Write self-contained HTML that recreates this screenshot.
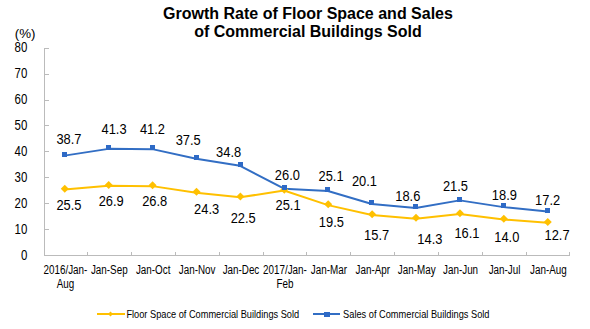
<!DOCTYPE html>
<html><head><meta charset="utf-8"><style>
html,body{margin:0;padding:0;background:#fff;width:590px;height:329px;overflow:hidden}
svg{display:block}
text{font-family:"Liberation Sans",sans-serif;fill:#000}
</style></head><body>
<svg width="590" height="329" viewBox="0 0 590 329">
<text x="308" y="19" font-size="16" font-weight="bold" text-anchor="middle">Growth Rate of Floor Space and Sales</text>
<text x="308" y="36.5" font-size="16" font-weight="bold" text-anchor="middle">of Commercial Buildings Sold</text>
<path d="M44.5 48 V255.5 H570" stroke="#BBBBBB" stroke-width="1" fill="none"/>
<path d="M44 48.5 H49 M44 74.5 H49 M44 100.5 H49 M44 125.5 H49 M44 151.5 H49 M44 177.5 H49 M44 203.5 H49 M44 229.5 H49 M44 255.5 H49 M87.5 255 V252 M131.5 255 V252 M175.5 255 V252 M219.5 255 V252 M263.5 255 V252 M306.5 255 V252 M350.5 255 V252 M394.5 255 V252 M438.5 255 V252 M482.5 255 V252 M526.5 255 V252 M569.5 255 V252" stroke="#BBBBBB" stroke-width="1" fill="none"/>
<text x="14.8" y="37.6" font-size="13.33">(%)</text>
<text x="27.3" y="51.8" font-size="14" text-anchor="end" textLength="12.77" lengthAdjust="spacingAndGlyphs">80</text>
<text x="27.3" y="77.8" font-size="14" text-anchor="end" textLength="12.77" lengthAdjust="spacingAndGlyphs">70</text>
<text x="27.3" y="103.8" font-size="14" text-anchor="end" textLength="12.77" lengthAdjust="spacingAndGlyphs">60</text>
<text x="27.3" y="129.8" font-size="14" text-anchor="end" textLength="12.77" lengthAdjust="spacingAndGlyphs">50</text>
<text x="27.3" y="155.8" font-size="14" text-anchor="end" textLength="12.77" lengthAdjust="spacingAndGlyphs">40</text>
<text x="27.3" y="181.8" font-size="14" text-anchor="end" textLength="12.77" lengthAdjust="spacingAndGlyphs">30</text>
<text x="27.3" y="207.8" font-size="14" text-anchor="end" textLength="12.77" lengthAdjust="spacingAndGlyphs">20</text>
<text x="27.3" y="233.8" font-size="14" text-anchor="end" textLength="12.77" lengthAdjust="spacingAndGlyphs">10</text>
<text x="27.3" y="259.8" font-size="14" text-anchor="end" textLength="6.38" lengthAdjust="spacingAndGlyphs">0</text>
<text x="65.4" y="273.8" font-size="12" text-anchor="middle" textLength="43.8" lengthAdjust="spacingAndGlyphs">2016/Jan-</text>
<text x="65.4" y="287.8" font-size="12" text-anchor="middle" textLength="17.5" lengthAdjust="spacingAndGlyphs">Aug</text>
<text x="109.3" y="273.8" font-size="12" text-anchor="middle" textLength="36.7" lengthAdjust="spacingAndGlyphs">Jan-Sep</text>
<text x="153.2" y="273.8" font-size="12" text-anchor="middle" textLength="34.5" lengthAdjust="spacingAndGlyphs">Jan-Oct</text>
<text x="197.1" y="273.8" font-size="12" text-anchor="middle" textLength="36.6" lengthAdjust="spacingAndGlyphs">Jan-Nov</text>
<text x="241.0" y="273.8" font-size="12" text-anchor="middle" textLength="36.6" lengthAdjust="spacingAndGlyphs">Jan-Dec</text>
<text x="284.9" y="273.8" font-size="12" text-anchor="middle" textLength="43.8" lengthAdjust="spacingAndGlyphs">2017/Jan-</text>
<text x="284.9" y="287.8" font-size="12" text-anchor="middle" textLength="17.0" lengthAdjust="spacingAndGlyphs">Feb</text>
<text x="328.9" y="273.8" font-size="12" text-anchor="middle" textLength="36.1" lengthAdjust="spacingAndGlyphs">Jan-Mar</text>
<text x="372.8" y="273.8" font-size="12" text-anchor="middle" textLength="34.5" lengthAdjust="spacingAndGlyphs">Jan-Apr</text>
<text x="416.7" y="273.8" font-size="12" text-anchor="middle" textLength="37.7" lengthAdjust="spacingAndGlyphs">Jan-May</text>
<text x="460.6" y="273.8" font-size="12" text-anchor="middle" textLength="35.0" lengthAdjust="spacingAndGlyphs">Jan-Jun</text>
<text x="504.5" y="273.8" font-size="12" text-anchor="middle" textLength="31.7" lengthAdjust="spacingAndGlyphs">Jan-Jul</text>
<text x="548.4" y="273.8" font-size="12" text-anchor="middle" textLength="36.7" lengthAdjust="spacingAndGlyphs">Jan-Aug</text>
<polyline points="64.50,189.51 108.41,185.87 152.32,186.13 196.23,192.64 240.14,197.32 284.04,190.55 327.95,205.12 371.86,215.00 415.77,218.65 459.68,213.96 503.59,219.43 547.50,222.81" fill="none" stroke="#FFC000" stroke-width="2" stroke-linejoin="round"/>
<polyline points="64.50,155.63 108.41,148.87 152.32,149.13 196.23,158.75 240.14,165.78 284.04,188.66 327.95,191.00 371.86,204.01 415.77,207.91 459.68,200.37 503.59,207.13 547.50,211.55" fill="none" stroke="#326EC4" stroke-width="2" stroke-linejoin="round"/>
<path d="M60.75 188.71 L64.75 184.71 L68.75 188.71 L64.75 192.71Z" fill="#FFC000"/>
<path d="M104.66 185.07 L108.66 181.07 L112.66 185.07 L108.66 189.07Z" fill="#FFC000"/>
<path d="M148.57 185.33 L152.57 181.33 L156.57 185.33 L152.57 189.33Z" fill="#FFC000"/>
<path d="M192.48 191.84 L196.48 187.84 L200.48 191.84 L196.48 195.84Z" fill="#FFC000"/>
<path d="M236.39 196.52 L240.39 192.52 L244.39 196.52 L240.39 200.52Z" fill="#FFC000"/>
<path d="M280.29 189.75 L284.29 185.75 L288.29 189.75 L284.29 193.75Z" fill="#FFC000"/>
<path d="M324.20 204.32 L328.20 200.32 L332.20 204.32 L328.20 208.32Z" fill="#FFC000"/>
<path d="M368.11 214.20 L372.11 210.20 L376.11 214.20 L372.11 218.20Z" fill="#FFC000"/>
<path d="M412.02 217.85 L416.02 213.85 L420.02 217.85 L416.02 221.85Z" fill="#FFC000"/>
<path d="M455.93 213.16 L459.93 209.16 L463.93 213.16 L459.93 217.16Z" fill="#FFC000"/>
<path d="M499.84 218.63 L503.84 214.63 L507.84 218.63 L503.84 222.63Z" fill="#FFC000"/>
<path d="M543.75 222.01 L547.75 218.01 L551.75 222.01 L547.75 226.01Z" fill="#FFC000"/>
<rect x="62" y="152" width="5" height="5" fill="#2E6AC6"/>
<rect x="106" y="145" width="5" height="5" fill="#2E6AC6"/>
<rect x="150" y="145" width="5" height="5" fill="#2E6AC6"/>
<rect x="194" y="155" width="5" height="5" fill="#2E6AC6"/>
<rect x="238" y="162" width="5" height="5" fill="#2E6AC6"/>
<rect x="282" y="185" width="5" height="5" fill="#2E6AC6"/>
<rect x="325" y="187" width="5" height="5" fill="#2E6AC6"/>
<rect x="369" y="200" width="5" height="5" fill="#2E6AC6"/>
<rect x="413" y="204" width="5" height="5" fill="#2E6AC6"/>
<rect x="457" y="197" width="5" height="5" fill="#2E6AC6"/>
<rect x="501" y="203" width="5" height="5" fill="#2E6AC6"/>
<rect x="545" y="208" width="5" height="5" fill="#2E6AC6"/>
<text x="69.00" y="143.6" font-size="14" text-anchor="middle" textLength="25.07" lengthAdjust="spacingAndGlyphs">38.7</text>
<text x="114.05" y="134.3" font-size="14" text-anchor="middle" textLength="25.07" lengthAdjust="spacingAndGlyphs">41.3</text>
<text x="152.50" y="134.3" font-size="14" text-anchor="middle" textLength="25.07" lengthAdjust="spacingAndGlyphs">41.2</text>
<text x="188.25" y="144.8" font-size="14" text-anchor="middle" textLength="25.07" lengthAdjust="spacingAndGlyphs">37.5</text>
<text x="228.65" y="157.4" font-size="14" text-anchor="middle" textLength="25.07" lengthAdjust="spacingAndGlyphs">34.8</text>
<text x="287.35" y="179.5" font-size="14" text-anchor="middle" textLength="25.07" lengthAdjust="spacingAndGlyphs">26.0</text>
<text x="331.05" y="180.7" font-size="14" text-anchor="middle" textLength="25.07" lengthAdjust="spacingAndGlyphs">25.1</text>
<text x="364.45" y="186.4" font-size="14" text-anchor="middle" textLength="25.07" lengthAdjust="spacingAndGlyphs">20.1</text>
<text x="407.80" y="200.5" font-size="14" text-anchor="middle" textLength="25.07" lengthAdjust="spacingAndGlyphs">18.6</text>
<text x="455.50" y="191.3" font-size="14" text-anchor="middle" textLength="25.07" lengthAdjust="spacingAndGlyphs">21.5</text>
<text x="504.40" y="199.5" font-size="14" text-anchor="middle" textLength="25.07" lengthAdjust="spacingAndGlyphs">18.9</text>
<text x="547.65" y="204.6" font-size="14" text-anchor="middle" textLength="25.07" lengthAdjust="spacingAndGlyphs">17.2</text>
<text x="69.00" y="210.2" font-size="14" text-anchor="middle" textLength="25.07" lengthAdjust="spacingAndGlyphs">25.5</text>
<text x="111.20" y="206.0" font-size="14" text-anchor="middle" textLength="25.07" lengthAdjust="spacingAndGlyphs">26.9</text>
<text x="154.75" y="206.0" font-size="14" text-anchor="middle" textLength="25.07" lengthAdjust="spacingAndGlyphs">26.8</text>
<text x="206.60" y="214.2" font-size="14" text-anchor="middle" textLength="25.07" lengthAdjust="spacingAndGlyphs">24.3</text>
<text x="243.20" y="222.7" font-size="14" text-anchor="middle" textLength="25.07" lengthAdjust="spacingAndGlyphs">22.5</text>
<text x="288.05" y="210.0" font-size="14" text-anchor="middle" textLength="25.07" lengthAdjust="spacingAndGlyphs">25.1</text>
<text x="331.35" y="226.9" font-size="14" text-anchor="middle" textLength="25.07" lengthAdjust="spacingAndGlyphs">19.5</text>
<text x="376.65" y="240.0" font-size="14" text-anchor="middle" textLength="25.07" lengthAdjust="spacingAndGlyphs">15.7</text>
<text x="429.90" y="244.2" font-size="14" text-anchor="middle" textLength="25.07" lengthAdjust="spacingAndGlyphs">14.3</text>
<text x="467.00" y="238.4" font-size="14" text-anchor="middle" textLength="25.07" lengthAdjust="spacingAndGlyphs">16.1</text>
<text x="506.80" y="242.1" font-size="14" text-anchor="middle" textLength="25.07" lengthAdjust="spacingAndGlyphs">14.0</text>
<text x="557.05" y="239.7" font-size="14" text-anchor="middle" textLength="25.07" lengthAdjust="spacingAndGlyphs">12.7</text>
<path d="M97 314 H125" stroke="#FFC000" stroke-width="2"/>
<path d="M108 314 L110.5 311.5 L113 314 L110.5 316.5Z" fill="#FFC000"/>
<path d="M313 314 H340" stroke="#326EC4" stroke-width="2"/>
<rect x="324" y="312" width="6" height="5" fill="#2E6AC6"/>
<text x="126.4" y="318" font-size="11" textLength="172.8" lengthAdjust="spacingAndGlyphs">Floor Space of Commercial Buildings Sold</text>
<text x="343.1" y="318" font-size="11" textLength="146.4" lengthAdjust="spacingAndGlyphs">Sales of Commercial Buildings Sold</text>
</svg>
</body></html>
